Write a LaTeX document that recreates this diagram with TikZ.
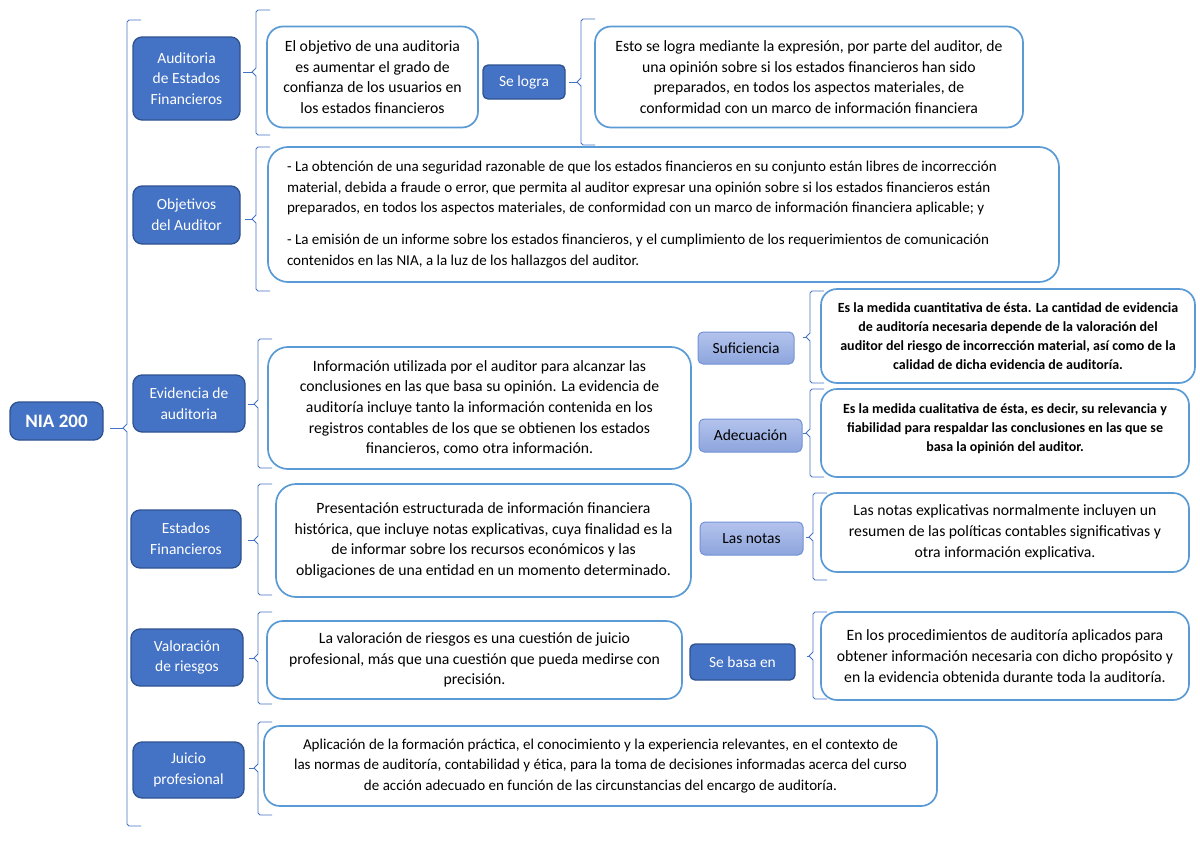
\documentclass[tikz,border=0pt]{standalone}
\usepackage{fontspec}
\setmainfont{Carlito}
\usetikzlibrary{calc}
\definecolor{dblue}{HTML}{4472C4}
\definecolor{dborder}{HTML}{2F528F}
\definecolor{lblue}{HTML}{5B9BD5}
\definecolor{litetop}{HTML}{B3C3EC}
\definecolor{litebot}{HTML}{8DA5DD}
\definecolor{liteborder}{HTML}{7392D6}
\definecolor{bracec}{HTML}{4472C4}
\newcommand{\bracketl}[5]{%
  \draw[bracestyle] (#1+14,#2) -- (#1+2,#2) -- (#1,#2+2) -- (#1,#4-4) -- (#1-4,#4) -- (#1,#4+4) -- (#1,#3-2) -- (#1+2,#3) -- (#1+14,#3);
  \draw[bracestyle] (#1-4,#4) -- (#5,#4);}
\tikzset{
  bracestyle/.style={draw=bracec, line width=0.9pt, line join=round},
  catbox/.style={fill=dblue, draw=dborder, line width=1.3pt, rounded corners=9pt, text=white, align=center, inner sep=0pt, font=\fontsize{15.5}{20.7}\selectfont},
  litebox/.style={top color=litetop, bottom color=litebot, draw=liteborder, line width=1pt, rounded corners=5pt, text=black, align=center, inner sep=0pt, font=\fontsize{15.5}{20}\selectfont},
  contbox/.style={fill=white, draw=lblue, line width=1.7pt, rounded corners=16pt, text=black, align=center, inner sep=0pt, font=\fontsize{15.7}{20.7}\selectfont},
  widebox/.style={contbox, font=\fontsize{15.05}{20.7}\selectfont},
  boldbox/.style={contbox, font=\bfseries\fontsize{14}{19}\selectfont}
}
\begin{document}
\begin{tikzpicture}[x=1pt,y=-1pt]
\useasboundingbox[fill=white] (0,0) rectangle (1200,849);
% root
\node[catbox, minimum width=93pt, minimum height=38pt, font=\bfseries\fontsize{19}{22}\selectfont] (nia) at (56.5,421) {NIA 200};
% categories
\node[catbox, minimum width=107pt, minimum height=83pt] (cat1) at (186.5,78.5) {Auditoria\\de Estados\\Financieros};
\node[catbox, minimum width=107pt, minimum height=58pt] (cat2) at (186.5,215) {Objetivos\\del Auditor};
\node[catbox, minimum width=112pt, minimum height=57pt] (cat3) at (189,403.5) {Evidencia de\\auditoria};
\node[catbox, minimum width=110pt, minimum height=58pt] (cat4) at (186,539) {Estados\\Financieros};
\node[catbox, minimum width=112pt, minimum height=57pt] (cat5) at (187,657.5) {Valoración\\de riesgos};
\node[catbox, minimum width=111pt, minimum height=56pt] (cat6) at (188.5,770) {Juicio\\profesional};
% row 1
\node[contbox, minimum width=211pt, minimum height=101pt] (c1) at (372.5,77) {El objetivo de una auditoria\\es aumentar el grado de\\confianza de los usuarios en\\los estados financieros};
\node[catbox, rounded corners=5pt, minimum width=82pt, minimum height=34pt] (logra) at (524,82) {Se logra};
\node[contbox, minimum width=428pt, minimum height=101pt] (c1b) at (809,77) {Esto se logra mediante la expresión, por parte del auditor, de\\una opinión sobre si los estados financieros han sido\\preparados, en todos los aspectos materiales, de\\conformidad con un marco de información financiera};
% row 2
\node[widebox, rounded corners=20pt, minimum width=791pt, minimum height=135pt, text width=753pt, align=flush left] (c2) at (663.5,214.5) {- La obtención de una seguridad razonable de que los estados financieros en su conjunto están libres de incorrección\\material, debida a fraude o error, que permita al auditor expresar una opinión sobre si los estados financieros están\\preparados, en todos los aspectos materiales, de conformidad con un marco de información financiera aplicable; y\\[11pt]- La emisión de un informe sobre los estados financieros, y el cumplimiento de los requerimientos de comunicación\\contenidos en las NIA, a la luz de los hallazgos del auditor.};
% row 3
\node[contbox, rounded corners=20pt, minimum width=423pt, minimum height=122pt] (c3) at (479.5,408) {Información utilizada por el auditor para alcanzar las\\conclusiones en las que basa su opinión. La evidencia de\\auditoría incluye tanto la información contenida en los\\registros contables de los que se obtienen los estados\\financieros, como otra información.};
\node[litebox, minimum width=96pt, minimum height=32pt] (suf) at (746,348) {Suficiencia};
\node[litebox, minimum width=103pt, minimum height=33pt] (ade) at (750.5,435.5) {Adecuación};
\node[boldbox, minimum width=374pt, minimum height=94pt] (cs) at (1008,336) {Es la medida cuantitativa de ésta. La cantidad de evidencia\\de auditoría necesaria depende de la valoración del\\auditor del riesgo de incorrección material, así como de la\\calidad de dicha evidencia de auditoría.};
\node[boldbox, minimum width=368pt, minimum height=88pt] (ca) at (1005,433) {Es la medida cualitativa de ésta, es decir, su relevancia y\\fiabilidad para respaldar las conclusiones en las que se\\basa la opinión del auditor.\\[-9pt]\mbox{}};
% row 4
\node[contbox, rounded corners=20pt, minimum width=415pt, minimum height=113pt] (c4) at (483.5,540.5) {Presentación estructurada de información financiera\\histórica, que incluye notas explicativas, cuya finalidad es la\\de informar sobre los recursos económicos y las\\obligaciones de una entidad en un momento determinado.};
\node[litebox, minimum width=103pt, minimum height=33pt] (notas) at (751.5,538.5) {Las notas};
\node[contbox, minimum width=368pt, minimum height=79pt] (cn) at (1005,532.5) {Las notas explicativas normalmente incluyen un\\resumen de las políticas contables significativas y\\otra información explicativa.};
% row 5
\node[contbox, minimum width=415pt, minimum height=78pt] (c5) at (474.5,660) {La valoración de riesgos es una cuestión de juicio\\profesional, más que una cuestión que pueda medirse con\\precisión.};
\node[catbox, rounded corners=5pt, minimum width=105pt, minimum height=36pt] (basa) at (742.5,662) {Se basa en};
\node[contbox, minimum width=368pt, minimum height=88pt] (cb) at (1005,656) {En los procedimientos de auditoría aplicados para\\obtener información necesaria con dicho propósito y\\en la evidencia obtenida durante toda la auditoría.};
% row 6
\node[widebox, minimum width=673pt, minimum height=80pt] (c6) at (600.5,766) {Aplicación de la formación práctica, el conocimiento y la experiencia relevantes, en el contexto de\\las normas de auditoría, contabilidad y ética, para la toma de decisiones informadas acerca del curso\\de acción adecuado en función de las circunstancias del encargo de auditoría.};
% braces
\bracketl{127}{20}{826}{428}{110}
\bracketl{256}{10}{135}{72}{243}
\bracketl{581}{19}{145}{82}{569}
\bracketl{256}{147}{291}{219}{245}
\bracketl{258}{339}{468}{404}{248}
\bracketl{810}{291}{383}{337}{803}
\bracketl{810}{389}{477}{433}{803}
\bracketl{258}{484}{595}{540}{248}
\bracketl{813}{493}{580}{537}{806}
\bracketl{258}{612}{704}{658}{249}
\bracketl{813}{612}{699}{656}{807}
\bracketl{258}{722}{815}{768}{249}
\end{tikzpicture}
\end{document}
